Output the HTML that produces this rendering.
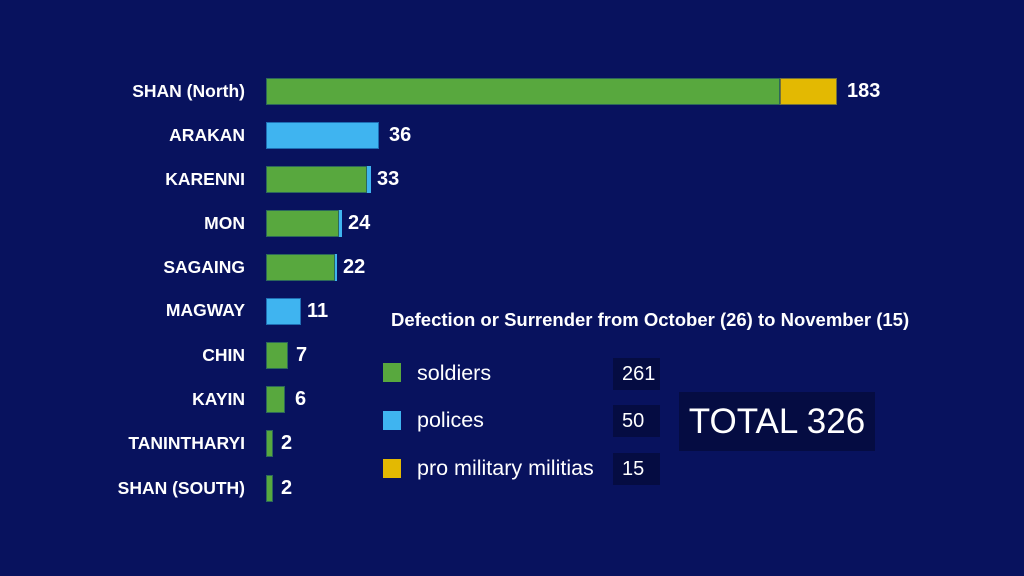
<!DOCTYPE html>
<html><head><style>
body{margin:0;width:1024px;height:576px;background:#08125e;overflow:hidden;font-family:"Liberation Sans",sans-serif;color:#fff;position:relative}
.l{position:absolute;right:779px;font-weight:bold;font-size:17.5px;line-height:20px;text-align:right;white-space:nowrap}
.b{position:absolute;height:27px;box-sizing:border-box;border:1px solid rgba(0,40,120,.5)}
.v{position:absolute;font-weight:bold;font-size:20px;line-height:24px}
.g{background:#58a83e}.c{background:#3fb4f0}.y{background:#e3b902}
.sq{position:absolute;left:383px;width:18px;height:19px}
.lt{position:absolute;left:417px;font-size:21.5px;line-height:24px;white-space:nowrap}
.nb{position:absolute;left:613px;width:47px;height:32px;background:#050c42;font-size:20px;line-height:32px;padding-left:9px;box-sizing:border-box}
</style></head><body>
<div class="l" style="top:81px">SHAN (North)</div>
<div class="b g" style="left:266px;top:78px;width:514px"></div><div class="b y" style="left:780px;top:78px;width:57px"></div>
<div class="v" style="left:847px;top:79px">183</div>

<div class="l" style="top:125px">ARAKAN</div>
<div class="b c" style="left:266px;top:122px;width:113px"></div>
<div class="v" style="left:389px;top:123px">36</div>

<div class="l" style="top:169px">KARENNI</div>
<div class="b g" style="left:266px;top:166px;width:101px"></div><div class="b c" style="left:367px;top:166px;width:4px;border:0"></div>
<div class="v" style="left:377px;top:167px">33</div>

<div class="l" style="top:213px">MON</div>
<div class="b g" style="left:266px;top:210px;width:73px"></div><div class="b c" style="left:339px;top:210px;width:3px;border:0"></div>
<div class="v" style="left:348px;top:211px">24</div>

<div class="l" style="top:257px">SAGAING</div>
<div class="b g" style="left:266px;top:254px;width:69px"></div><div class="b c" style="left:335px;top:254px;width:2px;border:0"></div>
<div class="v" style="left:343px;top:255px">22</div>

<div class="l" style="top:300px">MAGWAY</div>
<div class="b c" style="left:266px;top:298px;width:35px"></div>
<div class="v" style="left:307px;top:299px">11</div>

<div class="l" style="top:345px">CHIN</div>
<div class="b g" style="left:266px;top:342px;width:22px"></div>
<div class="v" style="left:296px;top:343px">7</div>

<div class="l" style="top:389px">KAYIN</div>
<div class="b g" style="left:266px;top:386px;width:19px"></div>
<div class="v" style="left:295px;top:387px">6</div>

<div class="l" style="top:433px">TANINTHARYI</div>
<div class="b g" style="left:266px;top:430px;width:7px"></div>
<div class="v" style="left:281px;top:431px">2</div>

<div class="l" style="top:478px">SHAN (SOUTH)</div>
<div class="b g" style="left:266px;top:475px;width:7px"></div>
<div class="v" style="left:281px;top:476px">2</div>

<div style="position:absolute;left:391px;top:309px;font-weight:bold;font-size:18.5px;line-height:22px;white-space:nowrap">Defection or Surrender from October (26) to November (15)</div>

<div class="sq g" style="top:363px"></div><div class="lt" style="top:361px">soldiers</div>
<div class="sq c" style="top:411px"></div><div class="lt" style="top:408px">polices</div>
<div class="sq y" style="top:459px"></div><div class="lt" style="top:456px">pro military militias</div>
<div class="nb" style="top:358px">261</div>
<div class="nb" style="top:405px">50</div>
<div class="nb" style="top:453px">15</div>
<div style="position:absolute;left:679px;top:392px;width:196px;height:59px;background:#050c42;font-size:35px;line-height:59px;text-align:center;white-space:nowrap">TOTAL 326</div>
</body></html>
